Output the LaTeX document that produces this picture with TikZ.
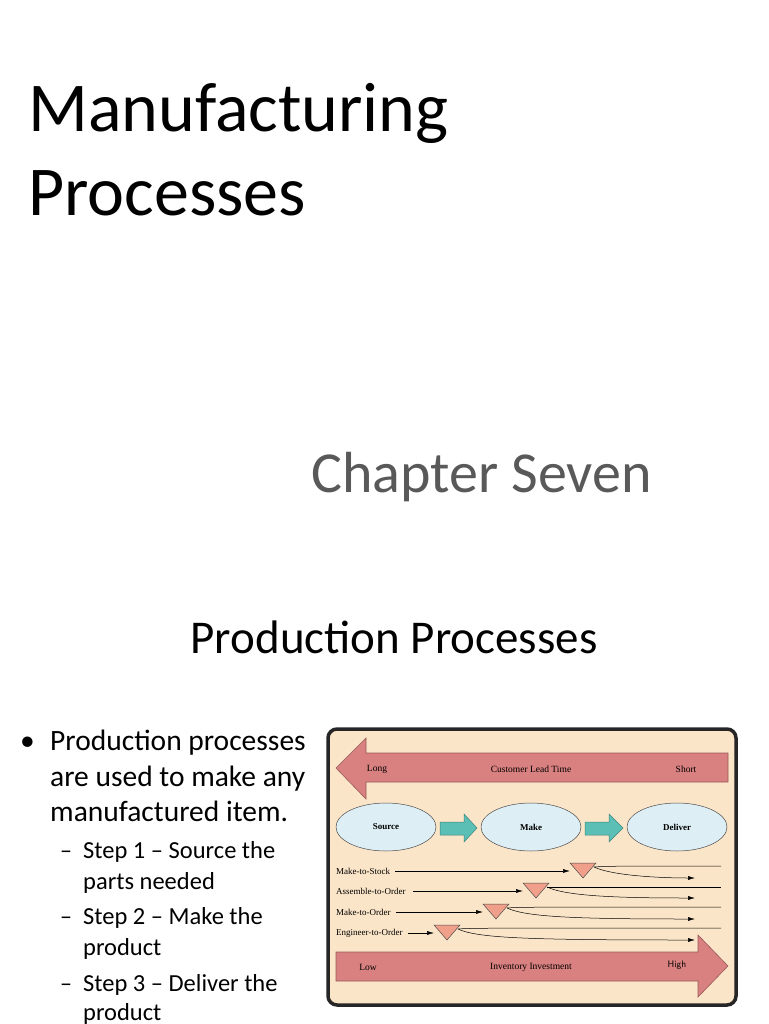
\documentclass[tikz,border=0pt]{standalone}
\usepackage{fontspec}
\setmainfont{Carlito}
\newfontfamily\tms{Liberation Serif}
\usetikzlibrary{shapes.geometric,shapes.arrows,arrows.meta}
\definecolor{cream}{HTML}{FBE5C8}
\definecolor{bigarrow}{HTML}{D98080}
\definecolor{ellfill}{HTML}{DDEFF5}
\definecolor{teal}{HTML}{5BBFB5}
\definecolor{tri}{HTML}{F0A08A}
\tikzset{
 big/.style={fill=bigarrow,draw=bigarrow!70!black,line width=0.6pt},
 ell/.style={ellipse,draw=black!70,fill=ellfill,minimum width=100pt,minimum height=48pt,font=\tms\bfseries\fontsize{9}{10}\selectfont,line width=0.5pt},
 tarr/.style={fill=teal,draw=teal!70!black,line width=0.5pt},
 trinode/.style={fill=tri,draw=black!70,line width=0.5pt},
 rowlbl/.style={anchor=west,font=\tms\fontsize{9}{10}\selectfont,inner sep=0pt},
 lbl/.style={font=\tms\fontsize{9.5}{10}\selectfont,inner sep=0pt},
 flow/.style={draw=black,line width=0.5pt,-{Latex[length=7pt,width=4pt]}},
 bul/.style={anchor=base west,font=\fontsize{29.5}{32}\selectfont,inner sep=0pt}
}
\begin{document}
\begin{tikzpicture}[x=1pt,y=-1pt]
\useasboundingbox (0,0) rectangle (768,1024);
\fill[white] (0,0) rectangle (768,1024);
\node[anchor=base west,inner sep=0pt,font=\fontsize{70}{72}\selectfont] (t1) at (28,132) {Manufacturing};
\node[anchor=base west,inner sep=0pt,font=\fontsize{70}{72}\selectfont] (t2) at (28,215) {Processes};
\node[anchor=base west,inner sep=0pt,font=\fontsize{58}{60}\selectfont,text=black!65] (ch) at (311,492) {Chapter Seven};
\node[anchor=base,inner sep=0pt,font=\fontsize{47}{50}\selectfont] (pp) at (394,653) {Production Processes};
% bullets
\node[bul] (b0) at (20,750) {•};
\node[bul] (b1) at (50,750) {Production processes};
\node[bul] (b2) at (50,786) {are used to make any};
\node[bul] (b3) at (50,821) {manufactured item.};
\foreach \y/\t/\d in {858/Step 1 – Source the/1,889/parts needed/0,924/Step 2 – Make the/1,955/product/0,991/Step 3 – Deliver the/1,1020/product/0}{
 \ifnum\d=1 \node[bul,font=\fontsize{24}{28}\selectfont] at (60,\y) {–};\fi
 \node[bul,font=\fontsize{24.5}{28}\selectfont] at (83,\y) {\t};
}
% frame
\draw[fill=cream,draw=black!85,line width=3.5pt,rounded corners=9pt] (328,729) rectangle (736,1005);
% top arrow
\draw[big] (728,753) -- (366,753) -- (366,738) -- (336,768) -- (366,799) -- (366,782) -- (728,782) -- cycle;
\node[lbl] (long) at (377,769) {Long};
\node[lbl] (clt) at (531,769) {Customer Lead Time};
\node[lbl] (short) at (686,769) {Short};
% ellipses
\node[ell] (src) at (386,827) {Source};
\node[ell] (mk) at (531,827) {Make};
\node[ell] (del) at (677,827) {Deliver};
\draw[tarr] (440,822) -- (464,822) -- (464,814) -- (477,828) -- (464,842) -- (464,835) -- (440,835) -- cycle;
\draw[tarr] (585,822) -- (609,822) -- (609,814) -- (623,828) -- (609,842) -- (609,835) -- (585,835) -- cycle;
% rows
\foreach \n/\lab/\y/\cx/\ax/\up in {mts/Make-to-Stock/871/583/395/866, ato/Assemble-to-Order/891/536/413/887, mto/Make-to-Order/912/496/396/907, eto/Engineer-to-Order/933/447/408/928}{
 \node[rowlbl] (\n) at (336,\y) {\lab};
 \coordinate (\n s) at (\ax,\y);
 \coordinate (\n a) at (\cx-13,\y);
 \coordinate (\n r) at (\cx+11,\y-4);
 \coordinate (\n u) at (721,\up);
 \coordinate (\n d) at (695,\y+7);
 \draw[flow] (\n s) -- (\n a);
 \draw[line width=0.5pt] (\n r) .. controls (\cx+22,\up) and (\cx+50,\up) .. (\n u);
 \draw[flow] (\n r) .. controls (\cx+30,\y+5) and (\cx+80,\y+7) .. (\n d);
 \draw[trinode] (\cx-13,\y-8) -- (\cx+13,\y-8) -- (\cx,\y+7) -- cycle;
}
% bottom arrow
\draw[big] (336,952) -- (698,952) -- (698,935) -- (728,966) -- (698,997) -- (698,981) -- (336,981) -- cycle;
\node[lbl] (low) at (368,967) {Low};
\node[lbl] (inv) at (531,967) {Inventory Investment};
\node[lbl,font=\sffamily\fontsize{9.5}{10}\selectfont] (high) at (677,965) {High};
\end{tikzpicture}
\end{document}
